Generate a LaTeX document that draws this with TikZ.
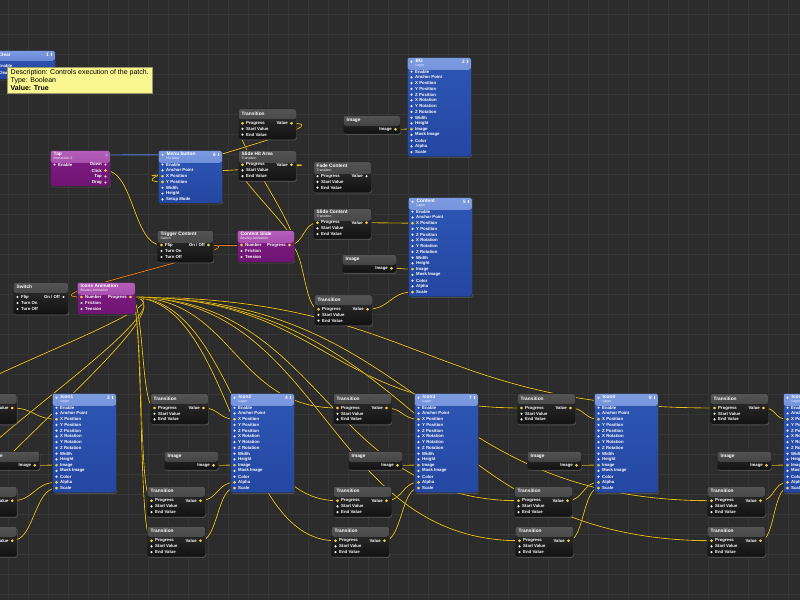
\documentclass[tikz,border=0pt]{standalone}
\usepackage{fontspec}
\setmainfont{Liberation Sans}
\usetikzlibrary{calc,shadows}
\pgfdeclarelayer{gridl}
\pgfdeclarelayer{wires}
\pgfsetlayers{gridl,wires,main}
\definecolor{bgc}{HTML}{2C2C2C}
\definecolor{gridc}{HTML}{363636}
\definecolor{wirey}{HTML}{E2BC28}
\definecolor{wireo}{HTML}{E8821E}
\definecolor{wireb}{HTML}{4D7EE0}
\definecolor{doty}{HTML}{F5D420}
\definecolor{dotw}{HTML}{F0F0F0}
\definecolor{darktop}{HTML}{303030}
\definecolor{darkbot}{HTML}{121212}
\definecolor{darkhdtop}{HTML}{545454}
\definecolor{darkhdbot}{HTML}{353535}
\definecolor{bluetop}{HTML}{2F56B4}
\definecolor{bluebot}{HTML}{2347A2}
\definecolor{bluehdtop}{HTML}{7D9BE0}
\definecolor{bluehdbot}{HTML}{4068C6}
\definecolor{purptop}{HTML}{821E87}
\definecolor{purpbot}{HTML}{6E1473}
\definecolor{purphdtop}{HTML}{B560BA}
\definecolor{purphdbot}{HTML}{8F3094}
\definecolor{tipc}{HTML}{FAF791}
\definecolor{tipb}{HTML}{9A9668}
\tikzset{
  x=1pt, y=-1pt,
  box/.style={rectangle, rounded corners=2.5pt, inner sep=0pt, anchor=north west, draw=black!85, line width=0.5pt, drop shadow={opacity=0.45, shadow xshift=0.7pt, shadow yshift=-1.2pt}},
  hdr/.style 2 args={path picture={\fill[top color=#1, bottom color=#2] (path picture bounding box.north west) rectangle ([yshift=-\hh pt]path picture bounding box.north east);}},
  darkbox/.style={box, top color=darktop, bottom color=darkbot, hdr={darkhdtop}{darkhdbot}},
  bluebox/.style={box, top color=bluetop, bottom color=bluebot, hdr={bluehdtop}{bluehdbot}},
  purpbox/.style={box, top color=purptop, bottom color=purpbot, hdr={purphdtop}{purphdbot}},
  ttl/.style={anchor=west, inner sep=0pt, text=white, font=\fontsize{4.8}{5}\selectfont\bfseries},
  subt/.style={anchor=west, inner sep=0pt, text=white!70, font=\fontsize{3.4}{4}\selectfont},
  lbl/.style={inner sep=0pt, text=white, font=\fontsize{4.3}{5}\selectfont\bfseries},
  wire/.style={draw=wirey, line width=0.85pt, preaction={draw=black, draw opacity=0.55, line width=1.7pt}},
  owire/.style={wire, draw=wireo},
  bwire/.style={draw=wireb, line width=0.9pt},
  tiptext/.style={anchor=west, inner sep=0pt, text=black, font=\fontsize{7}{8}\selectfont},
}
\def\kblue{blue}
\newcommand\mkpatch[8]{%
  \pgfmathsetmacro\pl{#2}%
  \pgfmathsetmacro\pr{#2+#4}%
  \def\psub{#8}%
  \ifx\psub\empty\def\hh{10.5}\else\def\hh{12.5}\fi
  \def\pkind{#6}%
  \ifx\pkind\kblue\def\tx{8.5}\else\def\tx{3.5}\fi
  \node[#6box, minimum width=#4pt, minimum height=#5pt] (#1) at (#2,#3) {};
  \ifx\psub\empty
    \node[ttl] (#1-t) at (#2+\tx,#3+5) {#7};
  \else
    \node[ttl] (#1-t) at (#2+\tx,#3+4) {#7};
    \node[subt] (#1-s) at (#2+\tx,#3+8.3) {#8};
  \fi}
\newcommand\inp[4]{%
  \coordinate (#1-#2) at (\pl+4.5,#3);
  \fill[dotw] (#1-#2) circle (1.2pt);
  \node[lbl, anchor=west] (#1-#2-l) at (\pl+8,#3) {#4};}
\newcommand\outp[4]{%
  \coordinate (#1-#2) at (\pr-4.5,#3);
  \fill[dotw] (#1-#2) circle (1.2pt);
  \node[lbl, anchor=east] (#1-#2-l) at (\pr-8,#3) {#4};}
\newcommand\yel[1]{\fill[doty] (#1) circle (1.35pt);}
\newcommand\hdot[3]{\coordinate (#1-hd) at (#2+4.5,#3+4.8);\fill[dotw] (#1-hd) circle (1.1pt);}
\newcommand\lnum[3]{%
  \node[ttl, anchor=east] (#1-num) at (\pr-6,#2+4.5) {#3};
  \fill[white] (\pr-4.4,#2+2.6) rectangle (\pr-3.2,#2+6.4);}
\newcommand\mktrans[5]{%
  \mkpatch{#1}{#2}{#3}{58}{30.5}{dark}{#4}{#5}%
  \inp{#1}{p}{#3+14.7}{Progress}%
  \inp{#1}{s}{#3+20.4}{Start Value}%
  \inp{#1}{e}{#3+26.1}{End Value}%
  \outp{#1}{v}{#3+14.7}{Value}}
\newcommand\mkimg[4]{%
  \mkpatch{#1}{#2}{#3}{#4}{18.5}{dark}{Image}{}%
  \outp{#1}{o}{#3+14.3}{Image}}
\newcommand\mklayer[5]{%
  \mkpatch{#1}{#2}{#3}{64}{99.5}{blue}{#4}{Layer}%
  \hdot{#1}{#2}{#3}%
  \lnum{#1}{#3}{#5}%
  \foreach \id/\lab [count=\i from 0] in {en/Enable,ap/Anchor Point,xp/X Position,yp/Y Position,zp/Z Position,xr/X Rotation,yr/Y Rotation,zr/Z Rotation,w/Width,h/Height,img/Image,mask/Mask Image,col/Color,alpha/Alpha,scale/Scale}{\inp{#1}{\id}{#3+14.7+5.74*\i}{\lab}}%
}
\newcommand\mkcol[8]{%
  \mklayer{L#1}{#2}{393}{#7}{#8}%
  \yel{L#1-xp}\yel{L#1-img}\yel{L#1-alpha}\yel{L#1-scale}%
  \mktrans{A#1}{#3}{393.3}{Transition}{}\yel{A#1-p}\yel{A#1-v}%
  \mkimg{I#1}{#4}{451}{54}\yel{I#1-o}%
  \mktrans{B#1}{#5}{486}{Transition}{}\yel{B#1-p}\yel{B#1-v}%
  \mktrans{C#1}{#6}{526}{Transition}{}\yel{C#1-p}\yel{C#1-v}}
\newcommand\wire[3][wire]{\draw[#1] let \p1=(#2), \p2=(#3), \n1={max(14,abs(\x2-(\x1))*0.5)} in (\p1) .. controls (\x1+\n1,\y1) and (\x2-\n1,\y2) .. (\p2);}
\newcommand\colwires[1]{%
  \wire{A#1-v}{L#1-xp}\wire{I#1-o}{L#1-img}\wire{B#1-v}{L#1-alpha}\wire{C#1-v}{L#1-scale}%
  \wire{ianim-pr}{A#1-p}\wire{ianim-pr}{B#1-p}\wire{ianim-pr}{C#1-p}}
\begin{document}
\begin{tikzpicture}
\useasboundingbox (0,0) rectangle (800,600);
\begin{pgfonlayer}{gridl}
\fill[bgc] (0,0) rectangle (800,600);
\foreach \g in {8,28,...,788} \draw[gridc, line width=0.5pt] (\g,0) -- (\g,600);
\foreach \g in {14,34,...,594} \draw[gridc, line width=0.5pt] (0,\g) -- (800,\g);
\end{pgfonlayer}

% Clear (top left, partly hidden)
\mkpatch{clear}{-10}{50}{65}{29}{blue}{Clear}{}
\lnum{clear}{50}{1}
\inp{clear}{en}{66}{Enable}
\inp{clear}{cc}{72.5}{Clear Color}

% Tap
\mkpatch{tap}{50}{150}{60}{36}{purp}{Tap}{Interaction 2}
\coordinate (tap-hd) at (106.5,155);
\fill[wireb!70!white] (tap-hd) circle (1.3pt);
\inp{tap}{en}{164.5}{Enable}
\outp{tap}{down}{164.5}{Down}
\outp{tap}{click}{170.5}{Click}
\outp{tap}{tap}{176.5}{Tap}
\outp{tap}{drag}{182.5}{Drag}
\yel{tap-click}

% Menu button
\mkpatch{menu}{158}{150}{64}{53}{blue}{Menu button}{Hit Area}
\hdot{menu}{158}{150}
\lnum{menu}{150}{6}
\inp{menu}{en}{164.5}{Enable}
\inp{menu}{ap}{170.3}{Anchor Point}
\inp{menu}{xp}{176.1}{X Position}
\inp{menu}{yp}{181.9}{Y Position}
\inp{menu}{w}{187.7}{Width}
\inp{menu}{h}{193.5}{Height}
\inp{menu}{sm}{199.3}{Setup Mode}
\yel{menu-xp}\yel{menu-yp}

% transitions top
\mktrans{ttop}{238}{108.5}{Transition}{}\yel{ttop-p}\yel{ttop-v}
\mktrans{shit}{238}{150}{Slide Hit Area}{Transition}\yel{shit-p}\yel{shit-v}
\mkimg{itop}{343}{115}{57}\yel{itop-o}
\mktrans{fade}{313}{161.5}{Fade Content}{Transition}
\mklayer{bg}{407}{57}{BG}{2}\yel{bg-img}
\mktrans{scon}{313}{208}{Slide Content}{Transition}\yel{scon-p}\yel{scon-v}
\mklayer{content}{408}{197}{Content}{5}\yel{content-xp}\yel{content-img}\yel{content-scale}
\mkimg{imid}{342}{254}{54}\yel{imid-o}
\mktrans{tmid}{314}{294.5}{Transition}{}\yel{tmid-p}\yel{tmid-v}

% Trigger Content / Content Slide
\mkpatch{trig}{157}{230}{56}{32}{dark}{Trigger Content}{Switch}
\inp{trig}{flip}{245}{Flip}
\inp{trig}{on}{251}{Turn On}
\inp{trig}{off}{257}{Turn Off}
\outp{trig}{oo}{245}{On / Off}
\yel{trig-flip}\yel{trig-oo}
\mkpatch{cslide}{237}{230}{57}{32}{purp}{Content Slide}{Bouncy Animation}
\inp{cslide}{num}{245}{Number}
\inp{cslide}{fr}{251}{Friction}
\inp{cslide}{te}{257}{Tension}
\outp{cslide}{pr}{245}{Progress}
\yel{cslide-num}\yel{cslide-pr}

% Switch / Icons Animation
\mkpatch{sw}{13}{282}{55}{32}{dark}{Switch}{}
\inp{sw}{flip}{297}{Flip}
\inp{sw}{on}{303}{Turn On}
\inp{sw}{off}{309}{Turn Off}
\outp{sw}{oo}{297}{On / Off}
\mkpatch{ianim}{77}{282}{58}{32}{purp}{Icons Animation}{Bouncy Animation}
\inp{ianim}{num}{297}{Number}
\inp{ianim}{fr}{303}{Friction}
\inp{ianim}{te}{309}{Tension}
\outp{ianim}{pr}{297}{Progress}
\yel{ianim-num}\yel{ianim-pr}

% bottom columns
\mkcol{1}{52}{-41.3}{-14.7}{-41.3}{-41.3}{Icon1}{3}
\mkcol{2}{230}{150}{164}{147}{147}{Icon2}{4}
\mkcol{3}{414}{333}{348}{333}{331}{Icon3}{7}
\mkcol{4}{594}{517}{527}{514}{515}{Icon4}{8}
\mkcol{5}{783}{710}{717}{707}{707}{Icon5}{9}

\begin{pgfonlayer}{wires}
\draw[bwire] (tap-hd) -- (menu-hd);
\wire{tap-click}{trig-flip}
\wire[owire]{trig-oo}{cslide-num}
\wire[owire]{trig-oo}{ianim-num}
\wire{cslide-pr}{ttop-p}
\wire{cslide-pr}{shit-p}
\wire{cslide-pr}{scon-p}
\wire{cslide-pr}{tmid-p}
\wire{shit-v}{menu-xp}
\wire{ttop-v}{menu-yp}
\wire{scon-v}{content-xp}
\wire{imid-o}{content-img}
\wire{tmid-v}{content-scale}
\wire{itop-o}{bg-img}
\colwires{1}
\colwires{2}
\colwires{3}
\colwires{4}
\colwires{5}
\end{pgfonlayer}

% tooltip
\node[box, sharp corners, draw=tipb, fill=tipc, minimum width=145pt, minimum height=26pt] (tip) at (7,67) {};
\node[tiptext] (tip1) at (10.5,72.8) {Description: Controls execution of the patch.};
\node[tiptext] (tip2) at (10.5,80.3) {Type: Boolean};
\node[tiptext, font=\fontsize{7}{8}\selectfont\bfseries] (tip3) at (10.5,88) {Value: True};
\end{tikzpicture}
\end{document}
